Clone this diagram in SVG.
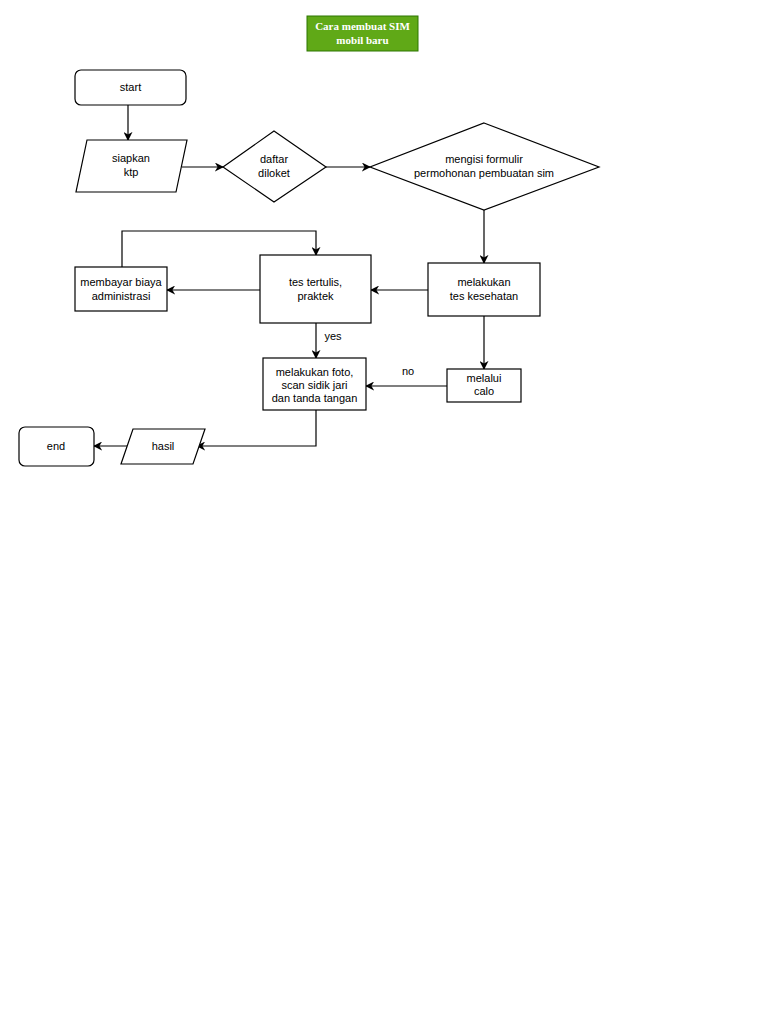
<svg xmlns="http://www.w3.org/2000/svg" width="768" height="1024" viewBox="0 0 768 1024">
<defs>
<marker id="arr" viewBox="0 0 10 10" refX="9" refY="5" markerWidth="9" markerHeight="9" orient="auto" markerUnits="userSpaceOnUse">
<path d="M0,0 L10,5 L0,10 L3,5 Z" fill="#000"/>
</marker>
<style>
.s{fill:#fff;stroke:#000;stroke-width:1.2}
.t{font-family:"Liberation Sans",Arial,sans-serif;font-size:11px;fill:#000;text-anchor:middle}
.c{fill:none;stroke:#000;stroke-width:1.2;marker-end:url(#arr)}
</style>
</defs>
<rect width="768" height="1024" fill="#fff"/>
<g id="title">
<rect x="307" y="16" width="111" height="35" fill="#60a917" stroke="#2d7600" stroke-width="1"/>
<text x="362.5" y="30" font-family="'Liberation Serif','Times New Roman',serif" font-size="11" font-weight="bold" fill="#fff" text-anchor="middle">Cara membuat SIM</text>
<text x="362.5" y="44" font-family="'Liberation Serif','Times New Roman',serif" font-size="11" font-weight="bold" fill="#fff" text-anchor="middle">mobil baru</text>
</g>
<g id="connectors">
<path class="c" d="M128,105 L128,140"/>
<path class="c" d="M182,167 L223,167"/>
<path class="c" d="M326,167 L370,167"/>
<path class="c" d="M484,210 L484,263"/>
<path class="c" d="M428,290 L371,290"/>
<path class="c" d="M260,290 L167,290"/>
<path class="c" d="M122,267 L122,231 L316,231 L316,255"/>
<path class="c" d="M316,323 L316,358"/>
<path class="c" d="M484,316 L484,369"/>
<path class="c" d="M447,386 L366,386"/>
<path class="c" d="M316,410 L316,446 L197,446"/>
<path class="c" d="M127,446 L94,446"/>
<text class="t" x="333" y="340">yes</text>
<text class="t" x="408" y="375">no</text>
</g>
<g id="start">
<rect class="s" x="75" y="70" width="111" height="35" rx="6"/>
<text class="t" x="130.5" y="91">start</text>
</g>
<g id="siapkan">
<polygon class="s" points="87,140 187,140 176,192 76,192"/>
<text class="t" x="131" y="162">siapkan</text>
<text class="t" x="131" y="176">ktp</text>
</g>
<g id="daftar">
<polygon class="s" points="274,131 326,167 274,202 223,167"/>
<text class="t" x="274" y="163">daftar</text>
<text class="t" x="274" y="177">diloket</text>
</g>
<g id="mengisi">
<polygon class="s" points="484,123 599,167 484,210 370,167"/>
<text class="t" x="484" y="163">mengisi formulir</text>
<text class="t" x="484" y="177">permohonan pembuatan sim</text>
</g>
<g id="kesehatan">
<rect class="s" x="428" y="263" width="112" height="53"/>
<text class="t" x="484" y="286">melakukan</text>
<text class="t" x="484" y="300">tes kesehatan</text>
</g>
<g id="tes">
<rect class="s" x="260" y="255" width="111" height="68"/>
<text class="t" x="315.5" y="286">tes tertulis,</text>
<text class="t" x="315.5" y="300">praktek</text>
</g>
<g id="membayar">
<rect class="s" x="75" y="267" width="92" height="44"/>
<text class="t" x="121" y="286">membayar biaya</text>
<text class="t" x="121" y="300">administrasi</text>
</g>
<g id="foto">
<rect class="s" x="263" y="358" width="103" height="52"/>
<text class="t" x="314.5" y="376">melakukan foto,</text>
<text class="t" x="314.5" y="389">scan sidik jari</text>
<text class="t" x="314.5" y="402">dan tanda tangan</text>
</g>
<g id="calo">
<rect class="s" x="447" y="369" width="74" height="33"/>
<text class="t" x="484" y="382">melalui</text>
<text class="t" x="484" y="395">calo</text>
</g>
<g id="hasil">
<polygon class="s" points="133,429 205,429 193,464 121,464"/>
<text class="t" x="163" y="450">hasil</text>
</g>
<g id="end">
<rect class="s" x="19" y="427" width="75" height="39" rx="6"/>
<text class="t" x="56" y="450">end</text>
</g>
</svg>
